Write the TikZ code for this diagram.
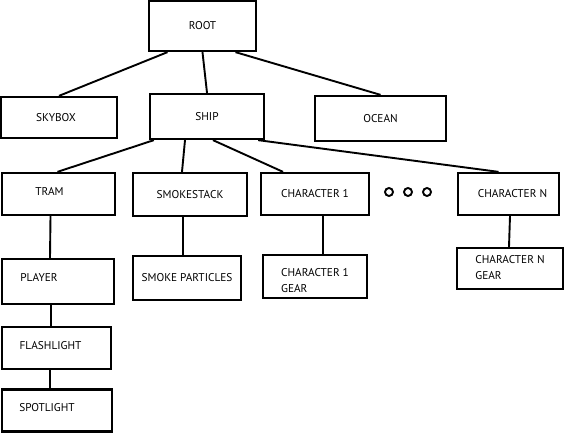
\documentclass[tikz,border=0pt]{standalone}
\usepackage{fontspec}
\setmainfont{PT Sans}
\tikzset{
  box/.style={draw,line width=2.3pt,inner sep=0pt,align=left,font=\fontsize{11.3}{16}\selectfont},
  link/.style={line width=1.9pt}
}
\begin{document}
\begin{tikzpicture}[x=1pt,y=-1pt]
        \useasboundingbox (0,0) rectangle (565,433);
        \node[box,minimum width=107pt,minimum height=50pt] (root) at (202.5,26) {ROOT};
        \node[box,minimum width=116pt,minimum height=41pt] (skybox) at (59,117.5) {SKYBOX\hspace*{6pt}};
        \node[box,minimum width=114pt,minimum height=45pt] (ship) at (207,116.5) {SHIP};
        \node[box,minimum width=131pt,minimum height=45pt] (ocean) at (380.5,118.5) {OCEAN};
        \node[box,minimum width=113pt,minimum height=42pt] (tram) at (58.5,194) {\raisebox{5pt}{TRAM}\hspace*{18pt}};
        \node[box,minimum width=114pt,minimum height=43pt] (smokestack) at (190,194.5) {SMOKESTACK};
        \node[box,minimum width=108pt,minimum height=42pt] (char1) at (315,194) {CHARACTER 1};
        \node[box,minimum width=101pt,minimum height=42pt] (charN) at (508.5,194) {\hspace*{8pt}CHARACTER N};
        \node[box,minimum width=112pt,minimum height=45pt] (player) at (58,281.5) {\raisebox{8pt}{PLAYER}\hspace*{38pt}};
        \node[box,minimum width=108pt,minimum height=44pt] (particles) at (187,278) {SMOKE PARTICLES};
        \node[box,minimum width=104pt,minimum height=43pt] (gear1) at (315,276.5) {\raisebox{-5pt}[\height][\depth]{\begin{tabular}{@{}l@{}}CHARACTER 1\\GEAR\end{tabular}}};
        \node[box,minimum width=106pt,minimum height=41pt] (gearN) at (510,268.5) {\begin{tabular}{@{}l@{}}CHARACTER N\\GEAR\end{tabular}};
        \node[box,minimum width=109pt,minimum height=42pt] (flashlight) at (56.5,348) {\raisebox{6pt}{FLASHLIGHT}\hspace*{12pt}};
        \node[box,minimum width=110pt,minimum height=42pt] (spotlight) at (57,410.5) {\raisebox{7pt}{SPOTLIGHT}\hspace*{20pt}};
        \draw[link] ([xshift=-35pt]root.south) -- (skybox.north);
        \draw[link] (root.south) -- (ship.north);
        \draw[link] ([xshift=33pt]root.south) -- (ocean.north);
        \draw[link] ([xshift=5pt]ship.south west) -- ([xshift=-1pt]tram.north);
        \draw[link] ([xshift=-22pt]ship.south) -- ([xshift=-8pt]smokestack.north);
        \draw[link] ([xshift=6pt]ship.south) -- ([xshift=-32pt]char1.north);
        \draw[link] ([xshift=-7pt]ship.south east) -- ([xshift=-10pt]charN.north);
        \draw[link] ([xshift=-8pt]tram.south) -- ([xshift=-8pt]player.north);
        \draw[link] ([xshift=-7pt]player.south) -- ([xshift=-5.5pt]flashlight.north);
        \draw[link] ([xshift=-6.5pt]flashlight.south) -- ([xshift=-7pt]spotlight.north);
        \draw[link] ([xshift=-7pt]smokestack.south) -- ([xshift=-4pt]particles.north);
        \draw[link] ([xshift=8pt]char1.south) -- ([xshift=8pt]gear1.north);
        \draw[link] ([xshift=1.5pt]charN.south) -- ([xshift=-1pt]gearN.north);
        \foreach \x in {389,408,427}
            \draw[link] (\x,192) circle (4pt);
    \end{tikzpicture}
\end{document}
